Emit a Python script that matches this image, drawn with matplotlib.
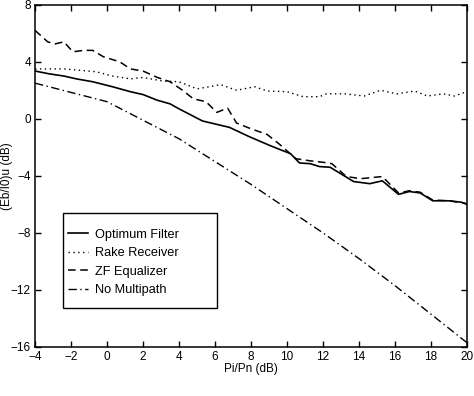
import matplotlib
matplotlib.use("Agg")
import matplotlib.pyplot as plt
from matplotlib.patches import Rectangle

# Optimum Filter (solid)
x_opt = [-4, -3.2, -2.4, -1.7, -0.8, 0.3, 1.3, 2.0, 2.8, 3.5, 4.0, 5.3, 6.3, 6.8, 7.9,
         9.1, 10.2, 10.7, 11.3, 11.8, 12.4, 13.7, 14.6, 15.3, 16.2, 16.8, 17.4, 18.1, 19.0, 19.7, 20]
y_opt = [3.35, 3.15, 3.0, 2.8, 2.6, 2.25, 1.9, 1.7, 1.3, 1.05, 0.7, -0.15, -0.45, -0.6, -1.25,
         -1.9, -2.45, -3.1, -3.15, -3.35, -3.4, -4.4, -4.55, -4.35, -5.3, -5.1, -5.2, -5.75, -5.75, -5.85, -6.0]

# Rake Receiver (dotted)
x_rake = [-4, -2.4, -0.6, 0.3, 1.3, 2.0, 3.1, 4.0, 5.0, 5.9, 6.3, 7.2, 8.2, 8.9, 10.0, 10.9,
          11.8, 12.2, 13.2, 14.3, 15.2, 16.1, 17.1, 17.8, 18.7, 19.3, 20]
y_rake = [3.5, 3.5, 3.3, 3.0, 2.8, 2.9, 2.65, 2.6, 2.1, 2.3, 2.4, 2.0, 2.25, 1.95, 1.9, 1.55,
          1.55, 1.75, 1.75, 1.6, 2.0, 1.75, 1.95, 1.6, 1.75, 1.6, 1.9]

# ZF Equalizer (dashed)
x_zf = [-4, -3.3, -2.9, -2.4, -1.9, -1.3, -0.8, -0.2, 0.7, 1.3, 2.0, 2.8, 3.5, 4.2, 4.8, 5.5,
        6.1, 6.7, 7.2, 8.0, 8.9, 9.6, 10.5, 11.3, 12.0, 12.5, 13.3, 14.1, 15.3, 16.2, 16.8,
        17.4, 18.1, 19.0, 20]
y_zf = [6.2, 5.4, 5.25, 5.4, 4.7, 4.8, 4.8, 4.35, 4.0, 3.5, 3.35, 2.9, 2.6, 2.0, 1.4, 1.2,
        0.45, 0.75, -0.3, -0.7, -1.1, -1.8, -2.8, -2.95, -3.05, -3.15, -4.05, -4.2, -4.05, -5.2,
        -5.05, -5.15, -5.7, -5.75, -5.95]

# No Multipath (dash-dot)
x_nomp = [-4, -2, 0, 2, 4, 6, 8, 10, 12, 14, 16, 18, 20]
y_nomp = [2.5, 1.85, 1.2, -0.1, -1.4, -3.0, -4.6, -6.3, -8.0, -9.8, -11.7, -13.7, -15.7]

x_ticks = list(range(-4, 21, 2))
y_ticks = list(range(-16, 9, 4))

plt.rcParams["font.family"] = ["Liberation Sans", "DejaVu Sans"]

fig = plt.figure(figsize=(4.74, 3.96), dpi=100)
ax = fig.add_axes([0.074, 0.124, 0.911, 0.864])

ax.plot(x_opt, y_opt, color="black", linestyle="-", linewidth=1.2, label="Optimum Filter")
ax.plot(x_rake, y_rake, color="black", linestyle=(0, (1, 2.5)), linewidth=1.0, label="Rake Receiver")
ax.plot(x_zf, y_zf, color="black", linestyle=(0, (5, 3)), linewidth=1.1, label="ZF Equalizer")
ax.plot(x_nomp, y_nomp, color="black", linestyle=(0, (6, 2.5, 1, 2.5)), linewidth=1.0, label="No Multipath")

ax.set_xlim(-4, 20)
ax.set_ylim(-16, 8)
ax.set_xticks(x_ticks)
ax.set_yticks(y_ticks)
ax.tick_params(direction="in", top=True, right=True, length=4, width=1, labelsize=8.5, pad=3)
for s in ax.spines.values():
    s.set_linewidth(1.1)

ax.set_xlabel("Pi/Pn (dB)", fontsize=8.5, labelpad=0)
ax.set_ylabel("(Eb/I0)u (dB)", fontsize=8.5)
ax.yaxis.set_label_coords(-0.05, 0.5)

# matlab-style legend: wide box, entries on the left
ax.add_patch(Rectangle((0.065, 0.114), 0.356, 0.278, transform=ax.transAxes,
                       facecolor="white", edgecolor="black", linewidth=1.0, zorder=4))
leg = ax.legend(loc="upper left", bbox_to_anchor=(0.076, 0.345), fontsize=9.2, frameon=False,
                handlelength=1.6, handletextpad=0.5, borderpad=0, labelspacing=0.5,
                borderaxespad=0)
leg.set_zorder(5)

fig.savefig("out.png", dpi=100)
